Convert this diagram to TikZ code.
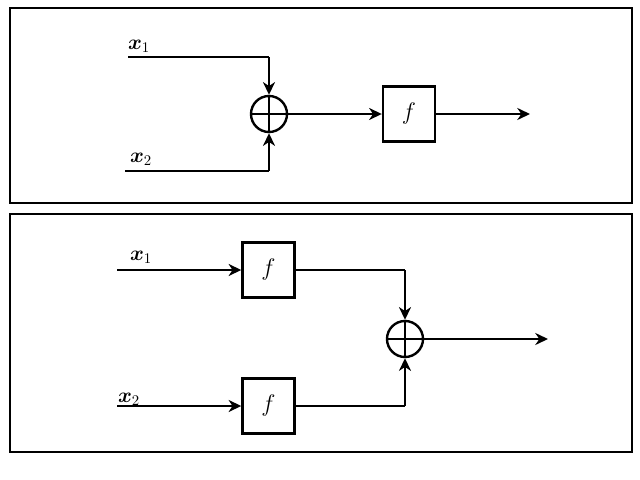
\RequirePackage{fix-cm}
\documentclass[tikz,border=0pt]{standalone}
\usepackage{amsmath,bm}
\usetikzlibrary{arrows.meta}

\tikzstyle{block} = [rectangle, draw, line width=1.7pt,
     minimum width=1.3cm, minimum height=1.38cm, font=\fontsize{17}{19}\selectfont]
\tikzstyle{adder} = [circle, draw, line width=1.7pt, minimum size=0.9cm, inner sep=0pt,
     path picture={\draw[line width=1.5pt] (path picture bounding box.north)--(path picture bounding box.south)
       (path picture bounding box.west)--(path picture bounding box.east);}]
\tikzstyle{panel} = [draw, line width=1.5pt]
\tikzstyle{wire} = [draw, line width=1.6pt]
\tikzstyle{arrow} = [draw, line width=1.6pt, -{Stealth[length=9pt,width=8.5pt,inset=2.8pt]}]
\tikzstyle{lbl} = [font=\fontsize{15}{17}\selectfont, inner sep=0pt]

\begin{document}
\begin{tikzpicture}[x=0.025cm, y=-0.025cm]
\useasboundingbox (0,0) rectangle (640,480);
\path[panel] (10,8) rectangle (632,203);
\path[panel] (10,214) rectangle (632,452);

% parallel: sum first, then f
\coordinate (in1_top) at (128,57);
\coordinate (corner1_top) at (269,57);
\coordinate (in2_top) at (125,171);
\coordinate (corner2_top) at (269,171);
\node[lbl] at (139,46) {$\bm{x}_1$};
\node[lbl] at (141,159) {$\bm{x}_2$};
\node[adder] (sum_top) at (269,114) {};
\node[block] (f_top) at (409,114) {$f$};
\coordinate (out_top) at (530,114);

\path[wire] (in1_top)--(corner1_top);
\path[arrow] (corner1_top)--(sum_top.north);
\path[wire] (in2_top)--(corner2_top);
\path[arrow] (corner2_top)--(sum_top.south);
\path[arrow] (sum_top)--(f_top);
\path[arrow] (f_top)--(out_top);

% f on each input, then sum
\coordinate (in1_bot) at (117,270);
\coordinate (in2_bot) at (117,406);
\node[lbl] at (141,257) {$\bm{x}_1$};
\node[lbl] at (129,399) {$\bm{x}_2$};
\node[block] (f1_bot) at (268.5,270) {$f$};
\node[block] (f2_bot) at (268.5,406) {$f$};
\node[adder] (sum_bot) at (405,339) {};
\coordinate (corner1_bot) at (405,270);
\coordinate (corner2_bot) at (405,406);
\coordinate (out_bot) at (548,339);

\path[arrow] (in1_bot)--(f1_bot);
\path[arrow] (in2_bot)--(f2_bot);
\path[wire] (f1_bot)--(corner1_bot);
\path[arrow] (corner1_bot)--(sum_bot.north);
\path[wire] (f2_bot)--(corner2_bot);
\path[arrow] (corner2_bot)--(sum_bot.south);
\path[arrow] (sum_bot)--(out_bot);
\end{tikzpicture}
\end{document}
